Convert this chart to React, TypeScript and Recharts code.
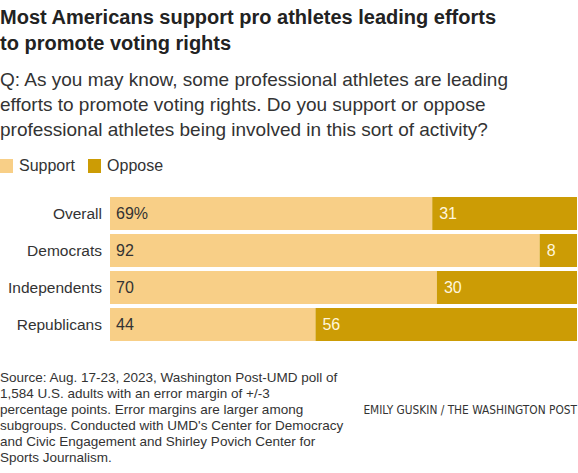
import React from "react";
import { Bar, BarChart, LabelList, XAxis, YAxis } from "recharts";

// chart values
const groups = ["Overall", "Democrats", "Independents", "Republicans"];
const support = [69, 92, 70, 44];
const oppose = [31, 8, 30, 56];

const SUPPORT_COLOR = "#f8cf87";
const OPPOSE_COLOR = "#cc9c05";

const data = groups.map((name, i) => ({
  name,
  support: support[i],
  oppose: oppose[i],
  supportLabel: i === 0 ? `${support[i]}%` : `${support[i]}`,
}));

const font = "'Liberation Sans', Arial, sans-serif";

export default function App() {
  return (
    <div
      style={{
        position: "relative",
        width: 578,
        height: 473,
        background: "#fff",
        fontFamily: font,
        color: "#222",
        overflow: "hidden",
      }}
    >
      <style>{`body{margin:0}`}</style>
      <div
        style={{
          position: "absolute",
          left: 0,
          top: 4,
          fontSize: 20,
          fontWeight: 700,
          lineHeight: "26px",
          width: 578,
        }}
      >
        Most Americans support pro athletes leading efforts
        <br />
        to promote voting rights
      </div>
      <div
        style={{
          position: "absolute",
          left: 0,
          top: 67,
          fontSize: 19,
          lineHeight: "25px",
          color: "#333",
          width: 578,
          whiteSpace: "nowrap",
        }}
      >
        Q: As you may know, some professional athletes are leading
        <br />
        efforts to promote voting rights. Do you support or oppose
        <br />
        professional athletes being involved in this sort of activity?
      </div>

      {/* legend */}
      <div
        style={{
          position: "absolute",
          left: 0,
          top: 157,
          display: "flex",
          alignItems: "center",
          fontSize: 16,
          color: "#333",
        }}
      >
        <span style={{ width: 13, height: 14, background: SUPPORT_COLOR, marginRight: 6 }} />
        <span style={{ marginRight: 13 }}>Support</span>
        <span style={{ width: 13, height: 14, background: OPPOSE_COLOR, marginRight: 6 }} />
        <span>Oppose</span>
      </div>

      <div style={{ position: "absolute", left: 0, top: 195 }}>
        <BarChart
          width={578}
          height={148}
          data={data}
          layout="vertical"
          margin={{ top: 0, right: 1, left: 0, bottom: 0 }}
          barSize={33}
        >
          <XAxis type="number" domain={[0, 100]} hide />
          <YAxis
            type="category"
            dataKey="name"
            width={110}
            axisLine={false}
            tickLine={false}
            tickSize={0}
            tickMargin={8}
            tick={{ fill: "#333", fontSize: 15.5, fontFamily: font }}
          />
          <Bar dataKey="support" stackId="a" fill={SUPPORT_COLOR} isAnimationActive={false}>
            <LabelList
              dataKey="supportLabel"
              position="insideLeft"
              offset={6}
              fill="#333"
              fontSize={16}
              fontFamily={font}
            />
          </Bar>
          <Bar dataKey="oppose" stackId="a" fill={OPPOSE_COLOR} isAnimationActive={false}>
            <LabelList
              dataKey="oppose"
              position="insideLeft"
              offset={7}
              fill="#fff6dc"
              fontSize={16}
              fontFamily={font}
            />
          </Bar>
        </BarChart>
      </div>

      <div
        style={{
          position: "absolute",
          left: 0,
          top: 370,
          fontSize: 13.5,
          lineHeight: "16px",
          color: "#333",
          whiteSpace: "nowrap",
        }}
      >
        Source: Aug. 17-23, 2023, Washington Post-UMD poll of
        <br />
        1,584 U.S. adults with an error margin of +/-3
        <br />
        percentage points. Error margins are larger among
        <br />
        subgroups. Conducted with UMD's Center for Democracy
        <br />
        and Civic Engagement and Shirley Povich Center for
        <br />
        Sports Journalism.
      </div>
      <div
        style={{
          position: "absolute",
          right: 1,
          top: 402,
          fontSize: 11.8,
          lineHeight: "16px",
          color: "#333",
          fontFamily: "'Liberation Sans Narrow', 'DejaVu Sans Condensed', sans-serif",
          whiteSpace: "nowrap",
        }}
      >
        EMILY GUSKIN / THE WASHINGTON POST
      </div>
    </div>
  );
}
